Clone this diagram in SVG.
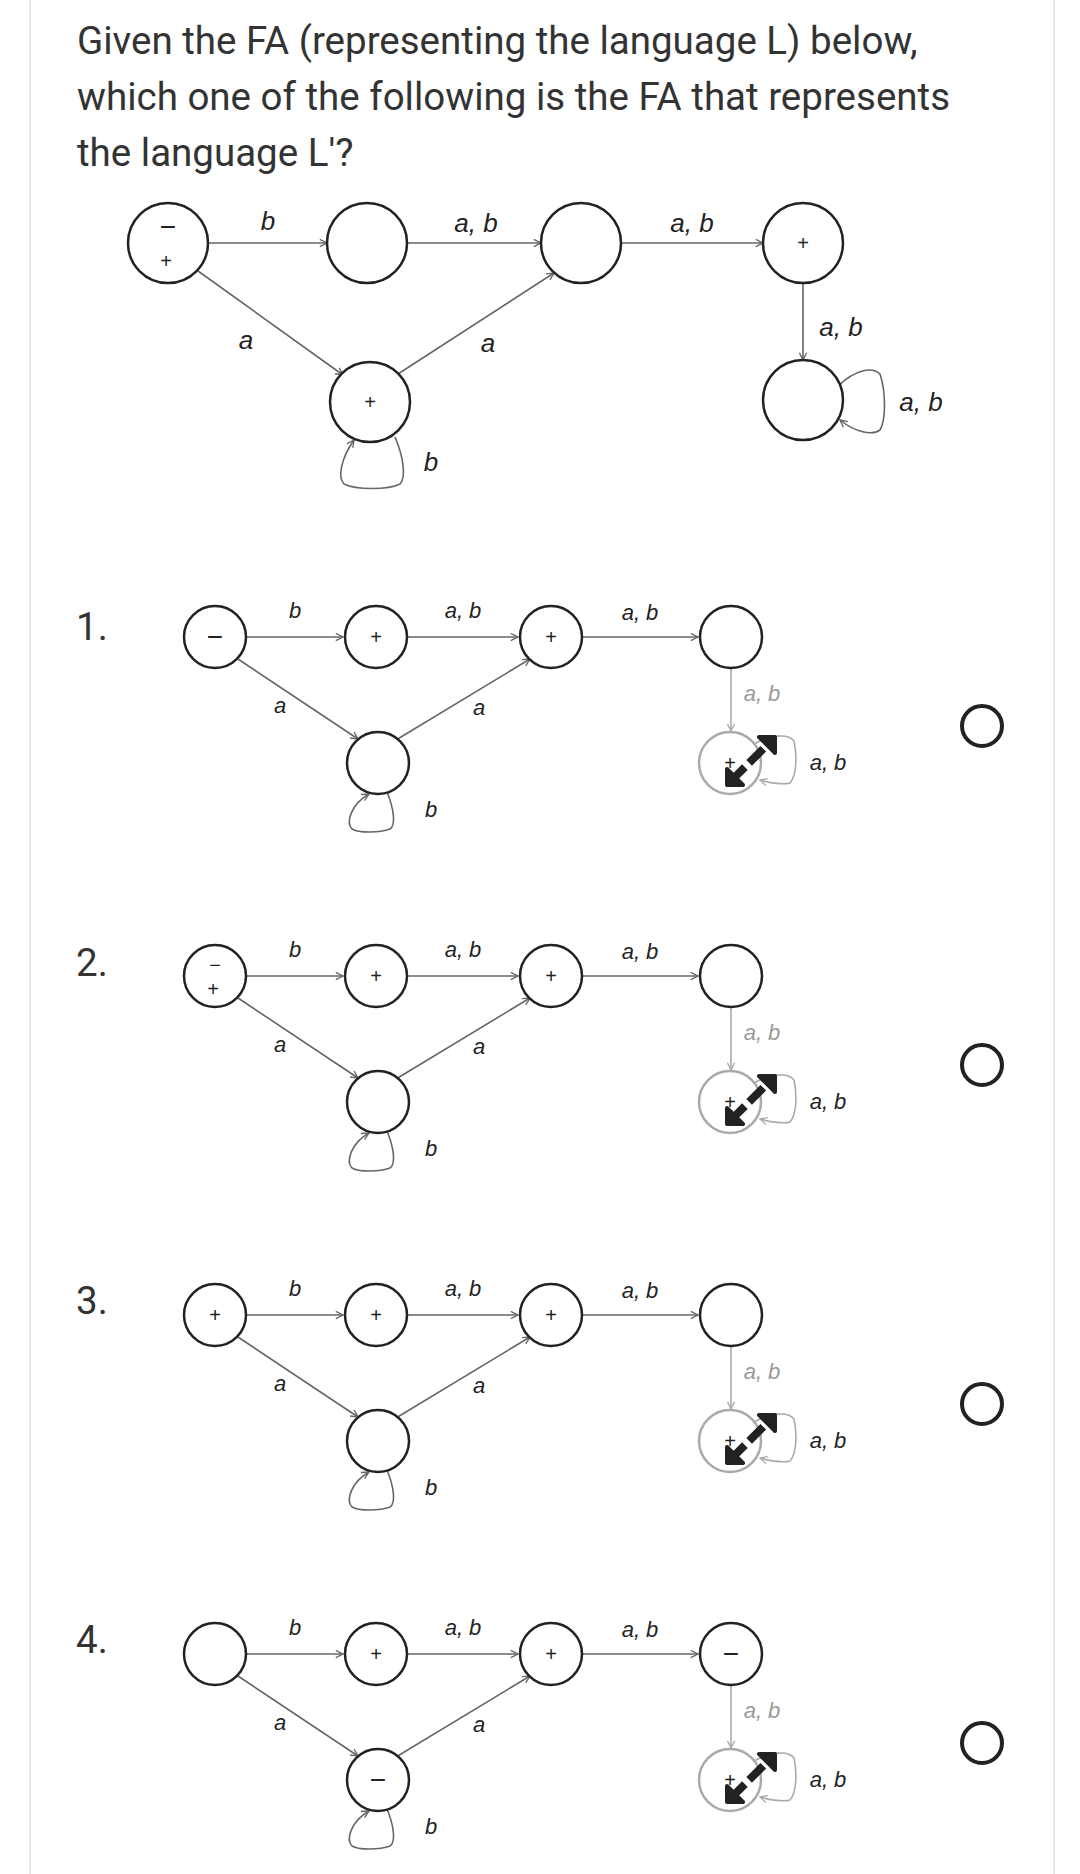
<svg xmlns="http://www.w3.org/2000/svg" width="1080" height="1874" viewBox="0 0 1080 1874">
<defs>
<style>
.t{font-family:Roboto,"Liberation Sans",sans-serif;font-size:38.5px;fill:#333}
.n{fill:#fff;stroke:#222;stroke-width:2.5}
.g{fill:#fff;stroke:#aaa;stroke-width:2.5}
.e{fill:none;stroke:#666;stroke-width:1.6;marker-end:url(#ar)}
.eg{fill:none;stroke:#aaa;stroke-width:1.6;marker-end:url(#arg)}
.l{font-family:"Liberation Sans",sans-serif;font-style:italic;font-size:26px;fill:#222;text-anchor:middle}
.ls{font-family:"Liberation Sans",sans-serif;font-style:italic;font-size:22px;fill:#222;text-anchor:middle}
.lg{fill:#999}
.s{font-family:"Liberation Sans",sans-serif;font-size:20px;fill:#222;text-anchor:middle}
.m{font-family:"Liberation Sans",sans-serif;font-size:28px;fill:#222;text-anchor:middle}
.r{fill:none;stroke:#222;stroke-width:4}
</style>
<marker id="ar" viewBox="0 0 10 10" refX="9" refY="5" markerWidth="9" markerHeight="9" orient="auto" markerUnits="userSpaceOnUse"><path d="M1,1 L9,5 L1,9" fill="none" stroke="#666" stroke-width="1.5"/></marker>
<marker id="arg" viewBox="0 0 10 10" refX="9" refY="5" markerWidth="9" markerHeight="9" orient="auto" markerUnits="userSpaceOnUse"><path d="M1,1 L9,5 L1,9" fill="none" stroke="#aaa" stroke-width="1.5"/></marker>
<g id="dbl"><path d="M-16,16 L16,-16" stroke="#222" stroke-width="8" stroke-dasharray="14 6 20"/><path d="M-24,24 L-24,8 L-8,24 Z M24,-24 L24,-8 L8,-24 Z" fill="#222" stroke="#222" stroke-width="4" stroke-linejoin="round"/></g>
<g id="opt">
<g id="c"><path class="e" d="M246,0 H343"/><path class="e" d="M407,0 H518"/><path class="e" d="M582,0 H698"/><path class="e" d="M238,22 L358,102"/><path class="e" d="M396,103 L530,22"/><path class="eg" d="M731,31 V94"/><path class="e" d="M387,155 C394,172 396,188 390,192 C380,196 358,196 352,192 C346,186 350,168 369,157"/><path class="eg" d="M754,107 C770,98 788,96 794,104 C797,118 797,138 790,146 C784,148 770,146 760,143"/></g>
<text class="ls" x="295" y="-19">b</text><text class="ls" x="463" y="-19">a, b</text><text class="ls" x="640" y="-17">a, b</text>
<text class="ls" x="280" y="76">a</text><text class="ls" x="479" y="78">a</text><text class="ls lg" x="762" y="64">a, b</text>
<text class="ls" x="828" y="133">a, b</text><text class="ls" x="431" y="180">b</text>
</g>
</defs>
<rect width="1080" height="1874" fill="#fff"/>
<line x1="30" y1="0" x2="30" y2="1874" stroke="#e6e6e6" stroke-width="2"/>
<line x1="1054" y1="0" x2="1054" y2="1874" stroke="#e6e6e6" stroke-width="2"/>
<text class="t" x="77" y="54">Given the FA (representing the language L) below,</text>
<text class="t" x="77" y="110">which one of the following is the FA that represents</text>
<text class="t" x="77" y="166">the language L'?</text>

<g id="fa-main">
<g id="edges-main">
<path class="e" d="M208,243 H327"/><path class="e" d="M407,243 H541"/><path class="e" d="M621,243 H763"/>
<path class="e" d="M198,271 L343,375"/><path class="e" d="M398,374 L554,273"/>
<path class="e" d="M803,283 V360"/>
<path class="e" d="M395,437 C404,458 406,478 400,484 C388,490 356,490 344,484 C338,478 340,460 354,440"/>
<path class="e" d="M838,386 C855,370 872,366 880,374 C886,392 886,420 880,430 C872,436 855,432 840,420"/>
</g>
<g id="m0"><circle class="n" cx="168" cy="243" r="40"/><text class="m" x="168" y="236">−</text><text class="s" x="166" y="268">+</text></g>
<g id="m1"><circle class="n" cx="367" cy="243" r="40"/></g>
<g id="m2"><circle class="n" cx="581" cy="243" r="40"/></g>
<g id="m3"><circle class="n" cx="803" cy="243" r="40"/><text class="s" x="803" y="250">+</text></g>
<g id="m4"><circle class="n" cx="803" cy="400" r="40"/></g>
<g id="m5"><circle class="n" cx="370" cy="402" r="40"/><text class="s" x="370" y="409">+</text></g>
<text class="l" x="268" y="230">b</text><text class="l" x="476" y="232">a, b</text><text class="l" x="692" y="232">a, b</text>
<text class="l" x="246" y="349">a</text><text class="l" x="488" y="352">a</text><text class="l" x="841" y="336">a, b</text>
<text class="l" x="921" y="411">a, b</text><text class="l" x="431" y="471">b</text>
</g>

<g id="opt1" transform="translate(0,637)">
<use href="#opt"/>
<g id="o1n0"><circle class="n" cx="215" cy="0" r="31"/><text class="m" x="215" y="9">−</text></g>
<g id="o1n1"><circle class="n" cx="376" cy="0" r="31"/><text class="s" x="376" y="7">+</text></g>
<g id="o1n2"><circle class="n" cx="551" cy="0" r="31"/><text class="s" x="551" y="7">+</text></g>
<g id="o1n3"><circle class="n" cx="731" cy="0" r="31"/></g>
<g id="o1n4"><circle class="g" cx="730" cy="126" r="31"/><text class="s lg" x="730" y="133">+</text><use href="#dbl" x="751" y="124"/></g>
<g id="o1n5"><circle class="n" cx="378" cy="126" r="31"/></g>
</g>
<g id="opt2" transform="translate(0,976)">
<use href="#opt"/>
<g id="o2n0"><circle class="n" cx="215" cy="0" r="31"/><text class="s" x="215" y="-4" font-size="22">−</text><text class="s" x="213" y="20" font-size="16">+</text></g>
<g id="o2n1"><circle class="n" cx="376" cy="0" r="31"/><text class="s" x="376" y="7">+</text></g>
<g id="o2n2"><circle class="n" cx="551" cy="0" r="31"/><text class="s" x="551" y="7">+</text></g>
<g id="o2n3"><circle class="n" cx="731" cy="0" r="31"/></g>
<g id="o2n4"><circle class="g" cx="730" cy="126" r="31"/><text class="s lg" x="730" y="133">+</text><use href="#dbl" x="751" y="124"/></g>
<g id="o2n5"><circle class="n" cx="378" cy="126" r="31"/></g>
</g>
<g id="opt3" transform="translate(0,1315)">
<use href="#opt"/>
<g id="o3n0"><circle class="n" cx="215" cy="0" r="31"/><text class="s" x="215" y="7">+</text></g>
<g id="o3n1"><circle class="n" cx="376" cy="0" r="31"/><text class="s" x="376" y="7">+</text></g>
<g id="o3n2"><circle class="n" cx="551" cy="0" r="31"/><text class="s" x="551" y="7">+</text></g>
<g id="o3n3"><circle class="n" cx="731" cy="0" r="31"/></g>
<g id="o3n4"><circle class="g" cx="730" cy="126" r="31"/><text class="s lg" x="730" y="133">+</text><use href="#dbl" x="751" y="124"/></g>
<g id="o3n5"><circle class="n" cx="378" cy="126" r="31"/></g>
</g>
<g id="opt4" transform="translate(0,1654)">
<use href="#opt"/>
<g id="o4n0"><circle class="n" cx="215" cy="0" r="31"/></g>
<g id="o4n1"><circle class="n" cx="376" cy="0" r="31"/><text class="s" x="376" y="7">+</text></g>
<g id="o4n2"><circle class="n" cx="551" cy="0" r="31"/><text class="s" x="551" y="7">+</text></g>
<g id="o4n3"><circle class="n" cx="731" cy="0" r="31"/><text class="m" x="731" y="9">−</text></g>
<g id="o4n4"><circle class="g" cx="730" cy="126" r="31"/><text class="s lg" x="730" y="133">+</text><use href="#dbl" x="751" y="124"/></g>
<g id="o4n5"><circle class="n" cx="378" cy="126" r="31"/><text class="m" x="378" y="135">−</text></g>
</g>

<g id="numbers">
<text class="t" x="76" y="640">1.</text><text class="t" x="76" y="976">2.</text><text class="t" x="76" y="1314">3.</text><text class="t" x="76" y="1653">4.</text>
</g>
<g id="radios">
<circle class="r" cx="982" cy="726" r="20"/><circle class="r" cx="982" cy="1065" r="20"/><circle class="r" cx="982" cy="1404" r="20"/><circle class="r" cx="982" cy="1743" r="20"/>
</g>
</svg>
